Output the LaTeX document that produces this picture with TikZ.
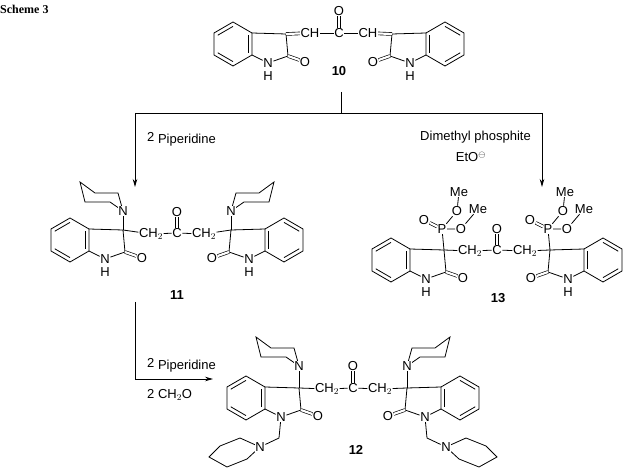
\documentclass[tikz,border=0pt]{standalone}
\usepackage{fontspec}
\setmainfont{Liberation Sans}
\newfontfamily\tnr{Liberation Serif}
\usetikzlibrary{calc,arrows.meta}
\tikzset{
  atom/.style={fill=white,inner sep=0.5pt,font=\fontsize{13}{14}\selectfont},
  lab/.style={inner sep=1pt,font=\fontsize{13}{14}\selectfont\bfseries},
  txt/.style={inner sep=1pt,font=\fontsize{13}{14}\selectfont},
  bond/.style={line width=0.8pt},
  dbl/.style={double,double distance=2.2pt,line width=0.65pt},
  arr/.style={line width=0.8pt,-{Stealth[length=8pt,width=4.5pt]}}
}
\newcommand{\oxi}[4]{%
\begin{scope}[shift={(#2,#3)},xscale=#4]
\coordinate (#1a) at (0,-11); \coordinate (#1c3) at (34,-10);
\coordinate (#1c2) at (36,12); \coordinate (#1b) at (0,11);
\coordinate (#1p1) at (-19,-22); \coordinate (#1p2) at (-38,-11);
\coordinate (#1p3) at (-38,11); \coordinate (#1p4) at (-19,22);
\coordinate (#1cc) at (-19,0);
\node[atom] (#1N) at (16,19) {N};
\node[atom] (#1O) at (53,18) {O};
\draw[bond] (#1a)--(#1p1)--(#1p2)--(#1p3)--(#1p4)--(#1b)--cycle;
\draw[bond] ($(#1p1)!0.2!(#1cc)$)--($(#1p2)!0.2!(#1cc)$);
\draw[bond] ($(#1p3)!0.2!(#1cc)$)--($(#1p4)!0.2!(#1cc)$);
\draw[bond] ($(#1a)!0.2!(#1cc)$)--($(#1b)!0.2!(#1cc)$);
\draw[bond] (#1a)--(#1c3)--(#1c2)--(#1N)--(#1b);
\draw[dbl] (#1c2)--(#1O);
\end{scope}}
\newcommand{\pip}[4]{%
\begin{scope}[shift={(#2,#3)},xscale=#4]
\draw[bond] (0,0)--(-13,-9)--(-38,-9)--(-43,-29)--(-28,-18)--(-5,-18)--cycle;
\end{scope}}
\newcommand{\pipl}[4]{%
\begin{scope}[shift={(#2,#3)},xscale=#4]
\draw[bond] (0,0)--(-20,-9)--(-40,-1)--(-51,10)--(-33,20)--(-13,12)--cycle;
\end{scope}}
\begin{document}
\begin{tikzpicture}[x=1pt,y=-1pt]
\useasboundingbox (0,0) rectangle (625,470);
\node[anchor=west,inner sep=0pt,font=\tnr\bfseries\fontsize{12}{13}\selectfont] (title) at (0,9) {Scheme 3};

% ---------- compound 10 ----------
\oxi{Ta}{252}{44}{1}
\oxi{Tb}{426}{44}{-1}
\node[atom,fill=none] (TaH) at (268,76) {H};
\node[atom,fill=none] (TbH) at (410,76) {H};
\node[atom] (Tch1) at (310,33) {CH};
\node[atom] (Tc) at (339,33) {C};
\node[atom] (To) at (339,11) {O};
\node[atom] (Tch2) at (368,33) {CH};
\draw[dbl] (Tac3)--(Tch1);
\draw[dbl] (Tbc3)--(Tch2);
\draw[bond] (Tch1)--(Tc)--(Tch2);
\draw[dbl] (Tc)--(To);
\node[lab] (l10) at (339,71) {10};

% ---------- arrows ----------
\coordinate (s0) at (341,92); \coordinate (s1) at (341,113);
\coordinate (sl) at (135,113); \coordinate (sr) at (542,113);
\coordinate (el) at (135,187); \coordinate (er) at (542,187);
\draw[bond] (s0)--(s1); \draw[bond] (sl)--(sr);
\draw[arr] (sl)--(el); \draw[arr] (sr)--(er);
\node[txt,anchor=west] (r1) at (146,139) {\raisebox{2pt}{2} Piperidine};
\node[txt,anchor=east] (r2) at (532,137) {Dimethyl phosphite};
\node[txt] (r3) at (471,157) {EtO$^{\ominus}$};

\coordinate (b0) at (135,302); \coordinate (b1) at (135,379); \coordinate (b2) at (213,379);
\draw[arr] (b0)--(b1)--(b2);
\node[txt,anchor=west] (r4) at (146,365) {\raisebox{2pt}{2} Piperidine};
\node[txt,anchor=west] (r5) at (146,395) {2 CH$_2$O};

% ---------- compound 11 ----------
\oxi{Ea}{89}{240}{1}
\oxi{Eb}{265}{240}{-1}
\node[atom,fill=none] (EaH) at (105,272) {H};
\node[atom,fill=none] (EbH) at (249,272) {H};
\pip{Ep1}{123}{211}{1}
\pip{Ep2}{231}{211}{-1}
\node[atom] (EaNp) at (123,211) {N};
\node[atom] (EbNp) at (231,211) {N};
\draw[bond] (Eac3)--(EaNp); \draw[bond] (Ebc3)--(EbNp);
\node[atom] (Ech1) at (151,234) {CH$_2$};
\node[atom] (Ec) at (177,233) {C};
\node[atom] (Eo) at (177,212) {O};
\node[atom] (Ech2) at (204,234) {CH$_2$};
\draw[bond] (Eac3)--(Ech1); \draw[bond] (Ebc3)--(Ech2);
\draw[bond] (Ech1)--(Ec)--(Ech2);
\draw[dbl] (Ec)--(Eo);
\node[lab] (l11) at (177,295) {11};

% ---------- compound 13 ----------
\oxi{Ma}{410}{260}{1}
\oxi{Mb}{584}{260}{-1}
\node[atom,fill=none] (MaH) at (426,292) {H};
\node[atom,fill=none] (MbH) at (568,292) {H};
\node[atom] (Mch1) at (470,251) {CH$_2$};
\node[atom] (Mc) at (497,250) {C};
\node[atom] (Mo) at (497,229) {O};
\node[atom] (Mch2) at (525,251) {CH$_2$};
\draw[bond] (Mac3)--(Mch1); \draw[bond] (Mbc3)--(Mch2);
\draw[bond] (Mch1)--(Mc)--(Mch2);
\draw[dbl] (Mc)--(Mo);
\foreach \s/\cx in {Ma/444,Mb/550}{
  \node[atom] (\s P) at (\cx-2,229) {P};
  \node[atom] (\s Od) at (\cx-20,220) {O};
  \node[atom] (\s Oe) at (\cx+17,229) {O};
  \node[atom] (\s Me) at (\cx+34,209) {Me};
  \node[atom] (\s Ou) at (\cx+13,211) {O};
  \node[atom] (\s Mu) at (\cx+15,192) {Me};
  \draw[bond] (\s c3)--(\s P);
  \draw[dbl] (\s P)--(\s Od);
  \draw[bond] (\s P)--(\s Oe)--(\s Me);
  \draw[bond] (\s P)--(\s Ou)--(\s Mu);
}
\node[lab] (l13) at (498,298) {13};

% ---------- compound 12 ----------
\oxi{Da}{265}{398}{1}
\oxi{Db}{441}{398}{-1}
\pip{Dp1}{299}{366}{1}
\pip{Dp2}{407}{366}{-1}
\node[atom] (DaNp) at (299,366) {N};
\node[atom] (DbNp) at (407,366) {N};
\draw[bond] (Dac3)--(DaNp); \draw[bond] (Dbc3)--(DbNp);
\node[atom] (Dch1) at (327,389) {CH$_2$};
\node[atom] (Dc) at (353,388) {C};
\node[atom] (Do) at (353,366) {O};
\node[atom] (Dch2) at (380,389) {CH$_2$};
\draw[bond] (Dac3)--(Dch1); \draw[bond] (Dbc3)--(Dch2);
\draw[bond] (Dch1)--(Dc)--(Dch2);
\draw[dbl] (Dc)--(Do);
\pipl{Dq1}{260}{447}{1}
\pipl{Dq2}{446}{447}{-1}
\node[atom] (DaNl) at (260,447) {N};
\node[atom] (DbNl) at (446,447) {N};
\coordinate (Dam) at (279,438); \coordinate (Dbm) at (427,438);
\draw[bond] (DaN)--(Dam)--(DaNl);
\draw[bond] (DbN)--(Dbm)--(DbNl);
\node[lab] (l12) at (356,450) {12};
\end{tikzpicture}
\end{document}
